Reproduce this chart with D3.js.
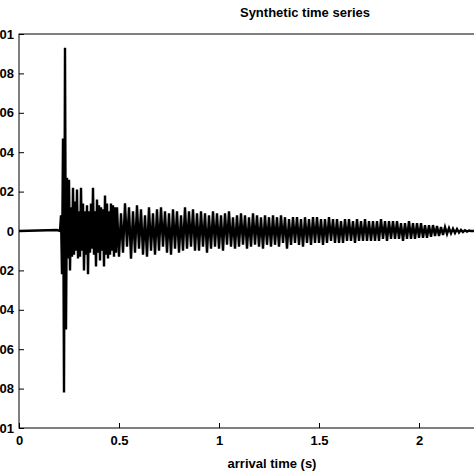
<!DOCTYPE html>
<html><head><meta charset="utf-8">
<script src="https://cdn.jsdelivr.net/npm/d3@7"></script>
<style>body{margin:0;background:#fff}text{font-family:"Liberation Sans",Arial,sans-serif;font-weight:bold}</style>
</head><body><svg id="c" width="474" height="474"></svg>
<script>
// onset segment: explicit times (s) and values (x1e-3)
const onsetTimes = [0,0.19,0.205,0.21,0.215,0.22,0.225,0.23,0.235];
const onsetValues = [0,0.05,0,0.8,-2.2,4.7,-8.2,9.3,-5.0];
// early coda sampled every 0.005 s from 0.24 s
const earlyStart = 0.24, earlyStep = 0.005;
const earlyValues = [2.7,-1.4,2.6,-2.0,1.2,-1.3,2.2,-1.2,1.5,-1.0,
 2.1,-1.4,1.0,-1.3,2.2,-1.0,1.4,-2.0,1.0,-1.2,
 1.3,-2.2,1.0,-1.1,1.4,-0.9,2.2,-1.2,1.0,-1.8,
 1.6,-1.1,1.3,-1.5,1.2,-1.0,1.1,-1.8,1.8,-1.2,
 1.4,-1.4,1.0,-1.2,1.4,-1.0,1.3,-1.3,1.2,-1.1];
// late coda sampled every 0.01 s from 0.49 s
const lateStart = 0.49, lateStep = 0.01;
const lateValues = [1.2,-1.3,0.9,-1.1,1.4,-0.8,1.2,-1.4,1.0,-1.1,
 1.3,-0.9,1.1,-1.2,0.8,-1.3,1.2,-1.0,0.9,-1.2,
 1.1,-1.0,1.2,-0.8,1.0,-1.1,0.9,-1.2,1.1,-0.9,
 1.0,-1.1,0.8,-1.0,1.2,-0.9,1.0,-0.8,1.1,-1.0,
 0.9,-1.0,1.0,-0.8,0.9,-1.1,0.8,-0.9,1.0,-0.8,
 0.9,-0.9,0.8,-1.0,0.9,-0.7,1.0,-0.8,0.7,-0.9,
 0.8,-0.8,0.9,-0.7,0.8,-0.9,0.7,-0.8,0.9,-0.7,
 0.8,-0.8,0.7,-0.9,0.8,-0.7,0.7,-0.8,0.8,-0.7,
 0.7,-0.8,0.8,-0.6,0.7,-0.9,0.6,-0.7,0.7,-0.6,
 0.7,-0.7,0.6,-0.8,0.7,-0.6,0.6,-0.7,0.7,-0.6,
 0.7,-0.6,0.6,-0.7,0.6,-0.6,0.7,-0.5,0.6,-0.6,
 0.6,-0.6,0.5,-0.6,0.6,-0.5,0.6,-0.5,0.5,-0.6,
 0.6,-0.5,0.5,-0.5,0.6,-0.5,0.5,-0.5,0.5,-0.5,
 0.5,-0.5,0.6,-0.4,0.5,-0.5,0.5,-0.4,0.5,-0.4,
 0.5,-0.4,0.4,-0.5,0.4,-0.4,0.5,-0.4,0.4,-0.4,
 0.4,-0.35,0.4,-0.35,0.3,-0.35,0.3,-0.3,0.3,-0.25,
 0.25,-0.25,0.2,-0.2,0.2,-0.15,0.15,-0.12,0.12,-0.1,
 0.1,-0.08,0.06,-0.05,0.04,-0.03,0.02,0];
const endTime = 2.4;
const xTicks = [0,0.5,1,1.5,2];
const yTicks = [-0.01,-0.008,-0.006,-0.004,-0.002,0,0.002,0.004,0.006,0.008,0.01];

const data = [];
onsetTimes.forEach((t,i)=>data.push({t, v:onsetValues[i]/1000}));
earlyValues.forEach((v,i)=>data.push({t:earlyStart+i*earlyStep, v:v/1000}));
lateValues.forEach((v,i)=>data.push({t:lateStart+i*lateStep, v:v/1000}));
data.push({t:endTime, v:0});

const svg = d3.select("#c");
const x = d3.scaleLinear().domain([0,2.5]).range([19,519]);
const y = d3.scaleLinear().domain([-0.01,0.01]).range([428,34]);

svg.append("rect").attr("x",19).attr("y",34).attr("width",500).attr("height",394).attr("fill","none").attr("stroke","#000").attr("stroke-width",1);

svg.append("path").datum(data).attr("fill","none").attr("stroke","#000").attr("stroke-width",2.4).attr("stroke-linejoin","miter")
  .attr("d", d3.line().x(d=>x(d.t)).y(d=>y(d.v)));

const fmtY = d => d===0 ? "0" : String(d);
const gx = svg.append("g").attr("transform","translate(0,428)")
  .call(d3.axisBottom(x).tickValues(xTicks).tickSize(-5).tickPadding(8).tickFormat(d=>String(d)));
const gy = svg.append("g").attr("transform","translate(19,0)")
  .call(d3.axisLeft(y).tickValues(yTicks).tickSize(-5).tickPadding(5).tickFormat(fmtY));
[gx,gy].forEach(g=>{g.select(".domain").remove();g.selectAll("text").attr("font-size",13).attr("font-weight","bold").attr("fill","#000");g.selectAll("line").attr("stroke","#000");});

svg.append("text").attr("x",305).attr("y",17).attr("text-anchor","middle").attr("font-size",13).text("Synthetic time series");
svg.append("text").attr("x",272).attr("y",468).attr("text-anchor","middle").attr("font-size",13).text("arrival time (s)");
</script></body></html>
